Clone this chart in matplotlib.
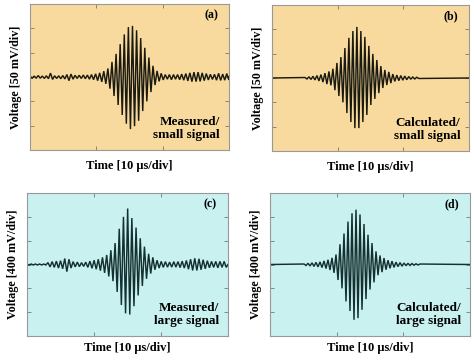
import numpy as np
import matplotlib
matplotlib.use("Agg")
import matplotlib.pyplot as plt

# ---------------- data (units: divisions) ----------------
# Signed half-cycle peak values, in vertical divisions.
# Panel (a): measured / small signal (50 mV/div), starts at t=0
a_start = 0.0
a_half = 0.0309
a_peaks = [0.05, -0.06, 0.04, -0.05, 0.06, -0.05, 0.04, -0.06, 0.05, -0.07,
           0.16, -0.10,
           0.05, -0.06, 0.05, -0.07, 0.06, -0.08,
           0.10, -0.15, 0.12, -0.09,
           0.07, -0.06, 0.07, -0.06, 0.08, -0.07,
           0.08, -0.09, 0.10, -0.11, 0.13, -0.15,
           0.17, -0.20, 0.24, -0.28,
           0.35, -0.48, 0.62, -0.78,
           0.95, -1.15, 1.35, -1.56,
           1.75, -1.92, 2.05, -2.14,
           2.10, -2.02, 1.92, -1.80,
           1.60, -1.40, 1.20, -1.00,
           0.80, -0.62, 0.46, -0.33,
           0.25, -0.18, 0.15, -0.12,
           0.10, -0.09, 0.10, -0.11, 0.10, -0.09, 0.10, -0.11, 0.12, -0.13,
           0.14, -0.16, 0.17, -0.19, 0.20, -0.19, 0.20, -0.18, 0.17, -0.15,
           0.14, -0.12, 0.11, -0.10, 0.11, -0.13, 0.15, -0.14, 0.12, -0.13, 0.14, -0.12]

# Panel (b): calculated / small signal
b_start = 0.502
b_half = 0.0304
b_peaks = [0.02, -0.04, 0.05, -0.06, 0.07, -0.08, 0.10, -0.12, 0.14, -0.17,
           0.20, -0.25, 0.27, -0.30, 0.38, -0.50, 0.62, -0.74, 0.86, -1.00,
           1.23, -1.44, 1.65, -1.81, 1.93, -2.06, 2.10, -2.06, 1.93, -1.81,
           1.69, -1.52, 1.32, -1.11, 0.99, -0.86, 0.74, -0.62, 0.49, -0.41,
           0.33, -0.29, 0.25, -0.21, 0.16, -0.14, 0.12, -0.11, 0.10, -0.09,
           0.08, -0.07, 0.06, -0.05, 0.04, -0.04, 0.03, -0.02]

# Panel (c): measured / large signal (400 mV/div)
c_start = 0.0
c_half = 0.0313
c_peaks = [0.02, -0.02, 0.02, -0.02, 0.02, -0.02, 0.02, -0.02, 0.02, -0.02,
           0.08, -0.10, 0.12, -0.12, 0.14, -0.15, 0.16, -0.18,
           0.25, -0.30, 0.22, -0.15,
           0.12, -0.10, 0.10, -0.09, 0.08, -0.08, 0.10,
           -0.12, 0.14, -0.16, 0.18, -0.20,
           0.22, -0.26, 0.30, -0.35,
           0.40, -0.50, 0.60, -0.70,
           0.90, -1.15, 1.50, -1.70,
           2.00, -2.05, 2.35, -2.10,
           1.95, -1.75, 1.55, -1.30,
           1.10, -0.90, 0.75, -0.60,
           0.45, -0.38, 0.30, -0.22,
           0.18, -0.15, 0.13, -0.12,
           0.12, -0.11, 0.10, -0.11, 0.12, -0.11, 0.12, -0.13, 0.14, -0.15,
           0.17, -0.20, 0.22, -0.25, 0.26, -0.25, 0.24, -0.22, 0.20, -0.18,
           0.16, -0.14, 0.13, -0.12, 0.13, -0.14, 0.13, -0.12, 0.13, -0.12]

# Panel (d): calculated / large signal
d_start = 0.51
d_half = 0.030
d_peaks = [0.02, -0.04, 0.05, -0.06, 0.07, -0.08, 0.09, -0.10, 0.11, -0.13,
           0.15, -0.17, 0.20, -0.23, 0.28, -0.35, 0.42, -0.65, 0.85, -1.00,
           1.30, -1.55, 1.80, -1.95, 2.15, -2.32, 2.30, -2.25, 2.10, -1.90,
           1.70, -1.45, 1.25, -1.05, 0.90, -0.75, 0.55, -0.45, 0.38, -0.32,
           0.27, -0.22, 0.18, -0.16, 0.14, -0.12, 0.10, -0.09, 0.08, -0.07,
           0.06, -0.05, 0.05, -0.04, 0.04, -0.03, 0.03, -0.02, 0.02]

panel_letters = ["(a)", "(b)", "(c)", "(d)"]
panel_notes = ["Measured/\nsmall signal", "Calculated/\nsmall signal",
               "Measured/\nlarge signal", "Calculated/\nlarge signal"]
ylabels = ["Voltage [50 mV/div]", "Voltage [50 mV/div]",
           "Voltage [400 mV/div]", "Voltage [400 mV/div]"]
xlabel = "Time [10 \u03bcs/div]"

# ---------------- figure ----------------
plt.rcParams['font.family'] = ['Liberation Serif', 'DejaVu Serif']
fig = plt.figure(figsize=(4.74, 3.60), dpi=100)

rects = [
    (30/474, 210/360, 199/474, 146/360),
    (272/474, 209/360, 197/474, 146/360),
    (27/474, 24/360, 201/474, 143/360),
    (270/474, 24/360, 200/474, 143/360),
]
xpads = [7, 7, 4, 4]
bgs = ['#F9DA9E', '#F9DA9E', '#C8F1F0', '#C8F1F0']
lcs = ['#1a1a10', '#1a1a10', '#143030', '#143030']
series = [(a_start, a_half, a_peaks), (b_start, b_half, b_peaks),
          (c_start, c_half, c_peaks), (d_start, d_half, d_peaks)]

for k in range(4):
    ax = fig.add_axes(rects[k])
    ax.set_facecolor(bgs[k])
    start, half, peaks = series[k]
    pk = np.array(peaks, dtype=float)
    t = start + half * np.arange(len(pk))
    tt = np.concatenate([[0.0], t, [3.0]])
    vv = np.concatenate([[0.0], pk, [0.0]])
    ax.plot(tt, vv, color=lcs[k], lw=1.05, solid_joinstyle='miter')
    ax.set_xlim(0, 3)
    ax.set_ylim(-3, 3)
    ax.set_xticks([1, 2])
    ax.set_yticks([-2, -1, 0, 1, 2])
    ax.tick_params(direction='in', length=3, width=0.6, color='#777777',
                   top=True, right=True, labelbottom=False, labelleft=False)
    for s in ax.spines.values():
        s.set_color('#999999')
        s.set_linewidth(0.8)
    ax.set_xlabel(xlabel, fontsize=9, fontweight='bold', labelpad=xpads[k])
    ax.set_ylabel(ylabels[k], fontsize=8.7, fontweight='bold', labelpad=6)
    ax.text(0.91, 0.92, panel_letters[k], transform=ax.transAxes,
            ha='center', va='center', fontsize=8.5, fontweight='bold')
    ax.text(0.955, 0.06, panel_notes[k], transform=ax.transAxes,
            ha='right', va='bottom', fontsize=9.5, fontweight='bold',
            linespacing=1.15)

fig.savefig("out.png", dpi=100)
